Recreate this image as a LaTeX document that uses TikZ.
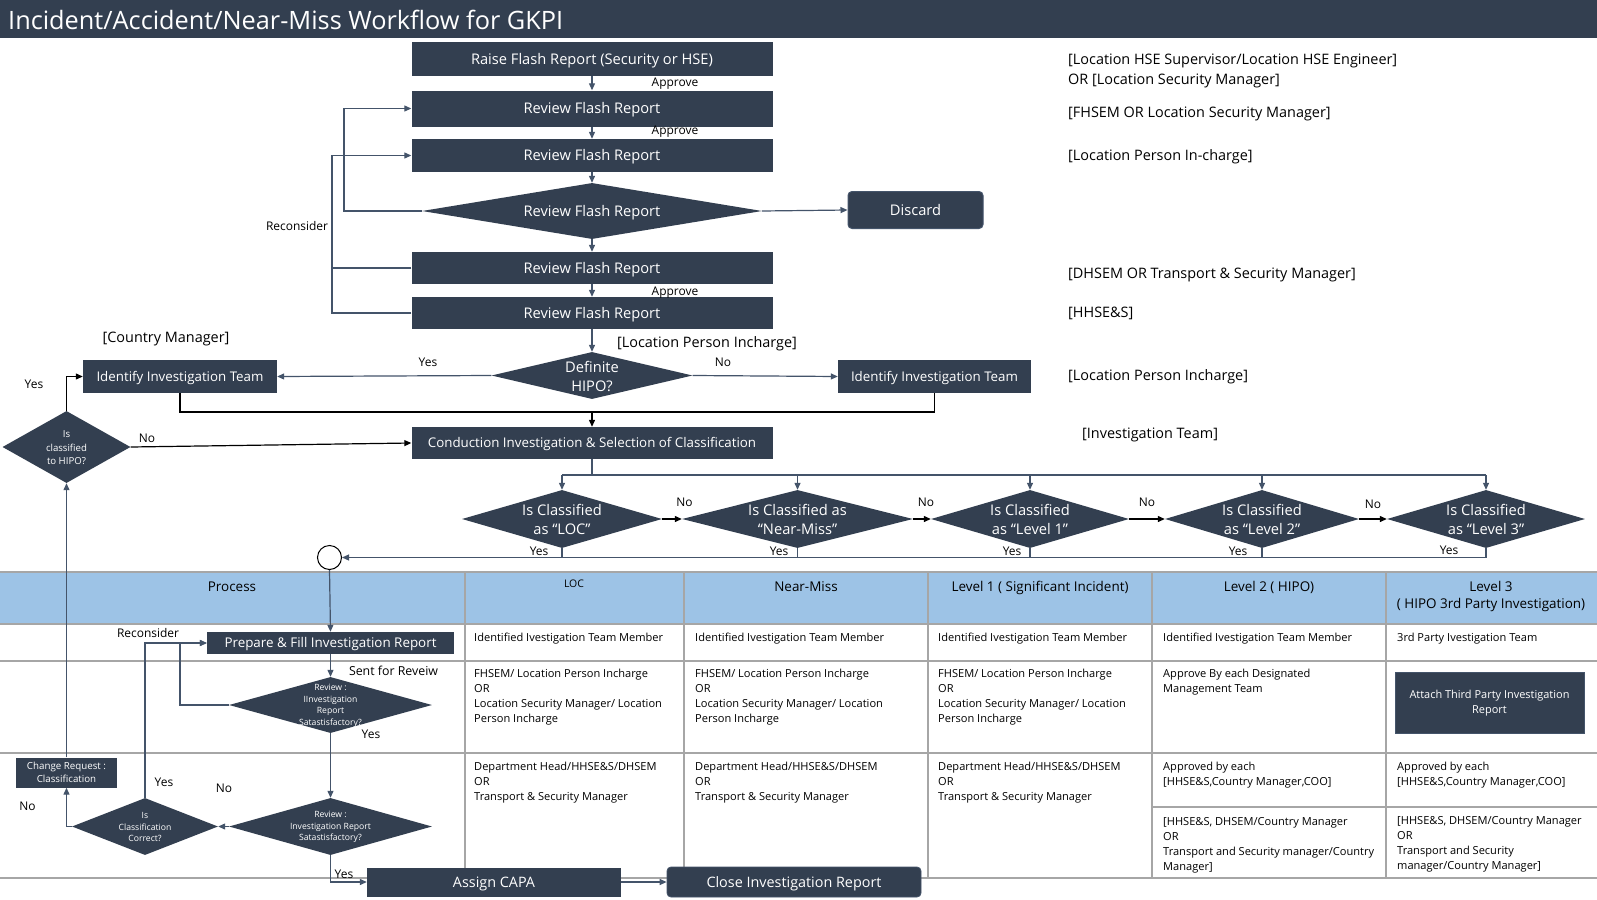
\documentclass[tikz,border=0pt]{standalone}
\usepackage{fontspec}
\setmainfont{Open Sans}
\usetikzlibrary{shapes.geometric,arrows.meta,calc}
\definecolor{dk}{HTML}{333F50}
\definecolor{ln}{HTML}{44546A}
\definecolor{hdr}{HTML}{9DC3E6}
\definecolor{grd}{HTML}{A6A6A6}
\newbox\fitbox
\newlength\fitlen
\newcommand\calcfs[4]{\setbox\fitbox=\hbox{\normalfont\fontsize{10pt}{12pt}\selectfont #4}\fitlen=\wd\fitbox\pgfmathsetmacro#1{10*#3/\fitlen}\pgfmathsetmacro#2{0.72*#1}}
\newcommand\fsz[2]{\fontsize{#1pt}{#2pt}\selectfont}
\begin{document}
\calcfs\fsTitle\hTitle{555}{Incident/Accident/Near-Miss Workflow for GKPI}%
\calcfs\fsBox\hBox{242}{Raise Flash Report (Security or HSE)}%
\calcfs\fsRole\hRole{329}{[Location HSE Supervisor/Location HSE Engineer]}%
\calcfs\fsId\hId{167}{Identify Investigation Team}%
\calcfs\fsSm\hSm{62}{Reconsider}%
\calcfs\fsPrep\hPrep{212}{Prepare \& Fill Investigation Report}%
\calcfs\fsSent\hSent{89}{Sent for Reveiw}%
\calcfs\fsTab\hTab{189}{Identified Ivestigation Team Member}%
\calcfs\fsHead\hHead{177}{Level 1 ( Significant Incident)}%
\calcfs\fsLoc\hLoc{20}{LOC}%
\calcfs\fsBig\hBig{175}{Close Investigation Report}%
\calcfs\fsTiny\hTiny{81}{Investigation Report}%
\calcfs\fsChg\hChg{79}{Change Request :}%
\calcfs\fsCls\hCls{41}{classified}%
\calcfs\fsAtt\hAtt{160}{Attach Third Party Investigation}%
\begin{tikzpicture}[x=1pt,y=-1pt,
  sl/.style={text height=#1 pt, text depth=0pt},
  box/.style={rectangle, fill=dk, inner sep=0, text=white, align=center},
  boxf/.style={box, sl=\hBox, font=\fsz{\fsBox}{18}},
  idf/.style={box, sl=\hId, font=\fsz{\fsId}{17}},
  dia/.style={diamond, fill=dk, inner sep=0},
  wl1/.style={text=white, inner sep=0, sl=\hBox},
  wlm/.style={text=white, inner sep=0, align=center, yshift=-0.8pt},
  conn/.style={draw=ln, line width=1.2pt, -{Triangle[length=7pt,width=6pt]}},
  bconn/.style={draw=black, line width=1.2pt, -{Triangle[length=7pt,width=6pt]}},
  plain/.style={draw=ln, line width=1.2pt},
  lab/.style={inner sep=0, anchor=center, sl=\hSm, font=\fsz{\fsSm}{14}},
  role/.style={inner sep=0, anchor=west, sl=\hRole, font=\fsz{\fsRole}{20}},
  rolec/.style={inner sep=0, anchor=center, sl=\hRole, font=\fsz{\fsRole}{20}},
  tcell/.style={inner sep=0, anchor=north west, align=left, font=\fsz{\fsTab}{15}},
  hd/.style={inner sep=0, anchor=center, sl=\hHead, font=\fsz{\fsHead}{17}},
  grid/.style={draw=grd, line width=1.2pt},
]
\useasboundingbox (0,0) rectangle (1597,899);
\fill[white] (0,0) rectangle (1597,899);
\fill[dk] (0,0) rectangle (1597,38.5);
\node[anchor=west, text=white, inner sep=0, sl=\hTitle, font=\fsz{\fsTitle}{30}] (title) at (8,20.5) {Incident/Accident/Near-Miss Workflow for GKPI};

% ---------- table grid (behind) ----------
\fill[hdr] (0,572) rectangle (1597,624);
\foreach \yy in {572,624,661,753,878} {\draw[grid] (0,\yy) -- (1597,\yy);}
\foreach \xx in {465,684,928,1152,1386} {\draw[grid] (\xx,572) -- (\xx,878);}
\draw[grid] (1152,807) -- (1597,807);

% ---------- top flow ----------
\node[boxf, minimum width=361, minimum height=34] (raise) at (592,59) {Raise Flash Report (Security or HSE)};
\node[boxf, minimum width=361, minimum height=36] (rev1) at (592,108.5) {Review Flash Report};
\node[boxf, minimum width=361, minimum height=33] (rev2) at (592,155.5) {Review Flash Report};
\node[dia, minimum width=340, minimum height=56, label={[wl1,font=\fsz{\fsBox}{18}]center:Review Flash Report}] (revd) at (592,211) {};
\node[boxf, minimum width=361, minimum height=32] (rev3) at (592,268) {Review Flash Report};
\node[boxf, minimum width=361, minimum height=32] (rev4) at (592,313) {Review Flash Report};
\node[boxf, rounded corners=4pt, draw=ln, line width=1pt, minimum width=135, minimum height=37] (discard) at (915.5,210) {Discard};

\draw[conn] (raise) -- (rev1);
\draw[conn] (rev1) -- (rev2);
\draw[conn] (rev2) -- (revd);
\draw[conn] (revd) -- (rev3);
\draw[conn] (rev3) -- (rev4);
\node[lab] at (675,82.5) {Approve};
\node[lab] at (675,130.5) {Approve};
\node[lab] at (675,291) {Approve};

\coordinate (lp1) at (344,211);
\coordinate (lp2) at (332,268);
\coordinate (lp3) at (332,313);
\draw[conn] (revd.west) -- (lp1) |- (rev1.west);
\draw[plain] (rev3.west) -- (lp2);
\draw[conn] (rev4.west) -- (lp3) |- (rev2.west);
\node[lab] at (297,226) {Reconsider};
\draw[conn] (revd.east) -- (discard.west);

\node[role] at (1068,59) {[Location HSE Supervisor/Location HSE Engineer]};
\node[role] at (1068,79.5) {OR [Location Security Manager]};
\node[role] at (1068,112) {[FHSEM OR Location Security Manager]};
\node[role] at (1068,155) {[Location Person In-charge]};
\node[role] at (1068,273) {[DHSEM OR Transport \& Security Manager]};
\node[role] at (1068,312) {[HHSE\&S]};

% ---------- HIPO decision ----------
\node[dia, minimum width=201, minimum height=47, label={[wlm,font=\fsz{\fsBox}{19}]center:Definite\\HIPO?}] (hipo) at (592,375.5) {};
\draw[conn] (rev4) -- (hipo);
\node[idf, minimum width=194, minimum height=33] (idL) at (180,376.5) {Identify Investigation Team};
\node[idf, minimum width=193, minimum height=33] (idR) at (934.5,376.5) {Identify Investigation Team};
\draw[conn] (hipo.west) -- (idL.east);
\draw[conn] (hipo.east) -- (idR.west);
\node[lab] at (428,362) {Yes};
\node[lab] at (723,362) {No};
\node[rolec] at (166,337) {[Country Manager]};
\node[rolec] at (707,342) {[Location Person Incharge]};
\node[role] at (1068,375) {[Location Person Incharge]};
\node[role] at (1082,433) {[Investigation Team]};

\node[idf, minimum width=361, minimum height=32] (cond) at (592,443) {Conduction Investigation \& Selection of Classification};
\coordinate (mC) at (592,412);
\draw[black, line width=1.2pt] (idL.south) |- (mC) -| (idR.south);
\draw[bconn] (mC) -- (cond.north);

\node[dia, minimum width=128, minimum height=72, label={[wlm,font=\fsz{\fsCls}{13.5}]center:Is\\classified\\to HIPO?}] (cls) at (66.5,447) {};
\draw[bconn] (cls.east) -- (cond.west);
\node[lab] at (147,438) {No};
\draw[bconn] (cls.north) |- (idL.west);
\node[lab] at (34,384) {Yes};

% ---------- classification ----------
\coordinate (bC) at (592,475);
\coordinate (bb) at (0,557.5);
\draw[plain] (cond.south) -- (bC);
\node[dia, minimum width=200, minimum height=58, label={[wlm,font=\fsz{\fsBox}{19}]center:Is Classified\\as “LOC”}] (dLOC) at (562,519) {};
\node[dia, minimum width=231, minimum height=58, label={[wlm,font=\fsz{\fsBox}{19}]center:Is Classified as\\“Near-Miss”}] (dNM) at (797.5,519) {};
\node[dia, minimum width=198, minimum height=58, label={[wlm,font=\fsz{\fsBox}{19}]center:Is Classified\\as “Level 1”}] (dL1) at (1030,519) {};
\node[dia, minimum width=194, minimum height=58, label={[wlm,font=\fsz{\fsBox}{19}]center:Is Classified\\as “Level 2”}] (dL2) at (1262,519) {};
\node[dia, minimum width=198, minimum height=58, label={[wlm,font=\fsz{\fsBox}{19}]center:Is Classified\\as “Level 3”}] (dL3) at (1486,519) {};
\draw[plain] (dLOC.north |- bC) -- (dL3.north |- bC);
\foreach \d in {dLOC,dNM,dL1,dL2,dL3} {
  \draw[conn] (\d.north |- bC) -- (\d.north);
  \draw[plain] (\d.south) -- (\d.south |- bb);
}
\draw[bconn] (dLOC.east) -- (dNM.west);
\draw[bconn] (dNM.east) -- (dL1.west);
\draw[bconn] (dL1.east) -- (dL2.west);
\draw[bconn] (dL2.east) -- (dL3.west);
\node[lab] at (684.5,502) {No};
\node[lab] at (926,502) {No};
\node[lab] at (1147,502) {No};
\node[lab] at (1373,504) {No};
\node[lab] at (539,551) {Yes};
\node[lab] at (779,551) {Yes};
\node[lab] at (1012,551) {Yes};
\node[lab] at (1238,551) {Yes};
\node[lab] at (1449,550) {Yes};

\node[circle, draw=black, fill=white, line width=1pt, minimum size=24, inner sep=0] (circ) at (329.5,557.5) {};
\draw[conn] (dL3.south |- bb) -- (circ.east);

% ---------- table headers ----------
\node[hd] at (232,587) {Process};
\node[inner sep=0, sl=\hLoc, font=\fsz{\fsLoc}{12}] at (574,584) {LOC};
\node[hd] at (806,587) {Near-Miss};
\node[hd] at (1040,587) {Level 1 ( Significant Incident)};
\node[hd] at (1269,587) {Level 2 ( HIPO)};
\node[hd] at (1491,587) {Level 3};
\node[hd] at (1491,604) {( HIPO 3rd Party Investigation)};

% ---------- table cells ----------
\node[tcell] at (474,630.3) {\strut Identified Ivestigation Team Member};
\node[tcell] at (695,630.3) {\strut Identified Ivestigation Team Member};
\node[tcell] at (938,630.3) {\strut Identified Ivestigation Team Member};
\node[tcell] at (1163,630.3) {\strut Identified Ivestigation Team Member};
\node[tcell] at (1397,630.3) {\strut 3rd Party Ivestigation Team};

\node[tcell] at (474,666.3) {\strut FHSEM/ Location Person Incharge\\OR\\Location Security Manager/ Location\\Person Incharge};
\node[tcell] at (695,666.3) {\strut FHSEM/ Location Person Incharge\\OR\\Location Security Manager/ Location\\Person Incharge};
\node[tcell] at (938,666.3) {\strut FHSEM/ Location Person Incharge\\OR\\Location Security Manager/ Location\\Person Incharge};
\node[tcell] at (1163,666.3) {\strut Approve By each Designated\\Management Team};
\node[box, draw=ln, line width=0.8pt, minimum width=189, minimum height=61, font=\fsz{\fsAtt}{15}] (attach) at (1489.5,703) {Attach Third Party Investigation\\Report};

\node[tcell] at (474,759.3) {\strut Department Head/HHSE\&S/DHSEM\\OR\\Transport \& Security Manager};
\node[tcell] at (695,759.3) {\strut Department Head/HHSE\&S/DHSEM\\OR\\Transport \& Security Manager};
\node[tcell] at (938,759.3) {\strut Department Head/HHSE\&S/DHSEM\\OR\\Transport \& Security Manager};
\node[tcell] at (1163,759.3) {\strut Approved by each\\{}[HHSE\&S,Country Manager,COO]};
\node[tcell] at (1397,759.3) {\strut Approved by each\\{}[HHSE\&S,Country Manager,COO]};
\node[tcell] at (1163,814.3) {\strut [HHSE\&S, DHSEM/Country Manager\\OR\\Transport and Security manager/Country\\Manager]};
\node[tcell] at (1397,813.3) {\strut [HHSE\&S, DHSEM/Country Manager\\OR\\Transport and Security\\manager/Country Manager]};

% ---------- process column flow ----------
\node[box, sl=\hPrep, minimum width=247, minimum height=22, font=\fsz{\fsPrep}{16}] (prep) at (330.5,643) {Prepare \& Fill Investigation Report};
\draw[conn] (circ.south) -- (prep.north);
\node[lab] at (148,633) {Reconsider};
\node[dia, minimum width=203, minimum height=56, label={[wlm,font=\fsz{\fsTiny}{11.5}]center:Review :\\IInvestigation\\Report\\Satastisfactory?}] (rv1) at (330.5,705) {};
\draw[conn] (prep.south) -- (rv1.north);
\node[inner sep=0, sl=\hSent, font=\fsz{\fsSent}{16}] at (393.5,671) {Sent for Reveiw};
\coordinate (rl) at (180,705);
\draw[conn] (rv1.west) -- (rl) |- (prep.west);
\node[lab] at (371,734) {Yes};

\node[dia, minimum width=203, minimum height=57, label={[wlm,font=\fsz{\fsTiny}{11.5}]center:Review :\\Investigation Report\\Satastisfactory?}] (rv2) at (330.5,826.5) {};
\draw[conn] (rv1.south) -- (rv2.north);
\node[dia, minimum width=146, minimum height=57, label={[wlm,font=\fsz{\fsTiny}{11.5}]center:Is\\Classification\\Correct?}] (cc) at (145,826.5) {};
\draw[conn] (rv2.west) -- (cc.east);
\node[lab] at (224,788) {No};
\draw[conn] (cc.north) |- (prep.west);
\node[lab] at (164,782) {Yes};

\node[box, minimum width=101, minimum height=30, font=\fsz{\fsChg}{13}] (chg) at (66.5,772.5) {Change Request :\\Classification};
\draw[conn] (cc.west) -| (chg.south);
\node[lab] at (27.5,806) {No};
\draw[conn] (chg.north) -- (cls.south);

\node[box, sl=\hBig, minimum width=254, minimum height=29, font=\fsz{\fsBig}{18}] (capa) at (494,882) {Assign CAPA};
\node[box, sl=\hBig, rounded corners=4pt, draw=ln, line width=0.8pt, minimum width=254, minimum height=30, font=\fsz{\fsBig}{18}] (close) at (794,882) {Close Investigation Report};
\draw[conn] (rv2.south) |- (capa.west);
\node[lab] at (344,874) {Yes};
\draw[conn] (capa.east) -- (close.west);
\end{tikzpicture}
\end{document}
